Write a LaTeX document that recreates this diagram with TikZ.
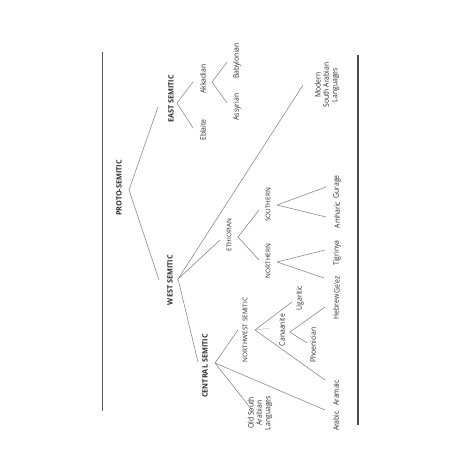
\documentclass[tikz,border=0pt]{standalone}
\usepackage{fontspec}
\setmainfont{Open Sans}
\newfontfamily\leaffont[FakeStretch=0.9]{Open Sans}
\definecolor{txt}{HTML}{2E2E2E}
\definecolor{lc}{HTML}{858585}
\begin{document}
\begin{tikzpicture}[x=1pt,y=-1pt,
  lab/.style={rotate=90,inner sep=0pt,text=txt,align=center,font=\leaffont\fontsize{7.6}{8.3}\selectfont},
  mainlab/.style={lab,font=\fontsize{7.3}{8.3}\selectfont\bfseries},
  sublab/.style={lab,font=\fontsize{6.4}{8}\selectfont},
  ln/.style={draw=lc,line width=0.55pt},
  faint/.style={draw=lc!60,line width=0.4pt}]
\useasboundingbox (0,0) rectangle (453,453);
\fill[white] (0,0) rectangle (453,453);
% page borders
\draw[draw=black!65,line width=0.7pt] (102,52) -- (102,411);
\draw[draw=black!70,line width=1.3pt] (358,55) -- (358,425);
% labels
\node[mainlab] (proto) at (119,188) {PROTO-SEMITIC};
\node[mainlab] (east) at (171,99) {EAST SEMITIC};
\node[mainlab] (west) at (170,280) {WEST SEMITIC};
\node[mainlab] (central) at (205,366) {CENTRAL SEMITIC};
\node[sublab] (eth) at (229,235) {ETHIOPIAN};
\node[sublab] (south) at (268,205) {SOUTHERN};
\node[sublab] (north) at (268,261) {NORTHERN};
\node[sublab] (nw) at (245,330) {NORTHWEST SEMITIC};
\node[lab] (akk) at (203,79) {Akkadian};
\node[lab] (ebl) at (203,130) {Eblaite};
\node[lab] (bab) at (237,61) {Babylonian};
\node[lab] (ass) at (237,107) {Assyrian};
\node[lab] (msa) at (327,85) {Modern\\South Arabian\\Languages};
\node[lab] (gur) at (337,187) {Gurage};
\node[lab] (amh) at (337,215) {Amharic};
\node[lab] (tig) at (337,253) {Tigrinya};
\node[lab] (gez) at (337,285) {Ge'ez};
\node[lab] (can) at (282,330) {Canaanite};
\node[lab] (uga) at (300,298) {Ugaritic};
\node[lab] (pho) at (313,345) {Phoenician};
\node[lab] (heb) at (336,307) {Hebrew};
\node[lab] (ara) at (336,393) {Aramaic};
\node[lab] (arb) at (336,421) {Arabic};
\node[lab] (osa) at (260,413) {Old South\\Arabian\\Languages};
% branch points
\coordinate (v-proto) at (129,190);
\coordinate (v-east) at (177,103);
\coordinate (v-akk) at (212,82);
\coordinate (v-west) at (178,279);
\coordinate (v-eth) at (238,237);
\coordinate (v-south) at (277,205);
\coordinate (v-north) at (277,262);
\coordinate (v-central) at (215,363);
\coordinate (v-nw) at (255,330);
\coordinate (v-can) at (290,332);
% connector ends
\coordinate (e-east) at (158,107);
\coordinate (e-west) at (159,280);
\coordinate (e-akk) at (193,82);
\coordinate (e-ebl) at (193,128);
\coordinate (e-bab) at (227,62);
\coordinate (e-ass) at (227,103);
\coordinate (e-msa) at (303,85);
\coordinate (e-eth) at (220,240);
\coordinate (e-central) at (198,362);
\coordinate (e-south) at (259,210);
\coordinate (e-north) at (259,260);
\coordinate (e-gur) at (326,187);
\coordinate (e-amh) at (326,217);
\coordinate (e-tig) at (325,250);
\coordinate (e-gez) at (324,278);
\coordinate (e-nw) at (238,330);
\coordinate (e-osa) at (252,410);
\coordinate (e-arb) at (325,410);
\coordinate (e-uga) at (292,302);
\coordinate (e-can) at (270,328);
\coordinate (e-ara) at (325,380);
\coordinate (e-heb) at (325,307);
\coordinate (e-pho) at (307,343);
% connectors
\draw[ln] (v-proto) -- (e-east);
\draw[ln] (v-proto) -- (e-west);
\draw[ln] (v-east) -- (e-akk);
\draw[ln] (v-east) -- (e-ebl);
\draw[ln] (v-akk) -- (e-bab);
\draw[ln] (v-akk) -- (e-ass);
\draw[ln] (v-west) -- (e-msa);
\draw[ln] (v-west) -- (e-eth);
\draw[ln] (v-west) -- (e-central);
\draw[ln] (v-eth) -- (e-south);
\draw[ln] (v-eth) -- (e-north);
\draw[ln] (v-south) -- (e-gur);
\draw[ln] (v-south) -- (e-amh);
\draw[ln] (v-north) -- (e-tig);
\draw[ln] (v-north) -- (e-gez);
\draw[ln] (v-central) -- (e-nw);
\draw[ln] (v-central) -- (e-osa);
\draw[ln] (v-central) -- (e-arb);
\draw[ln] (v-nw) -- (e-uga);
\draw[faint] (v-nw) -- (e-can);
\draw[ln] (v-nw) -- (e-ara);
\draw[ln] (v-can) -- (e-heb);
\draw[ln] (v-can) -- (e-pho);
\end{tikzpicture}
\end{document}
